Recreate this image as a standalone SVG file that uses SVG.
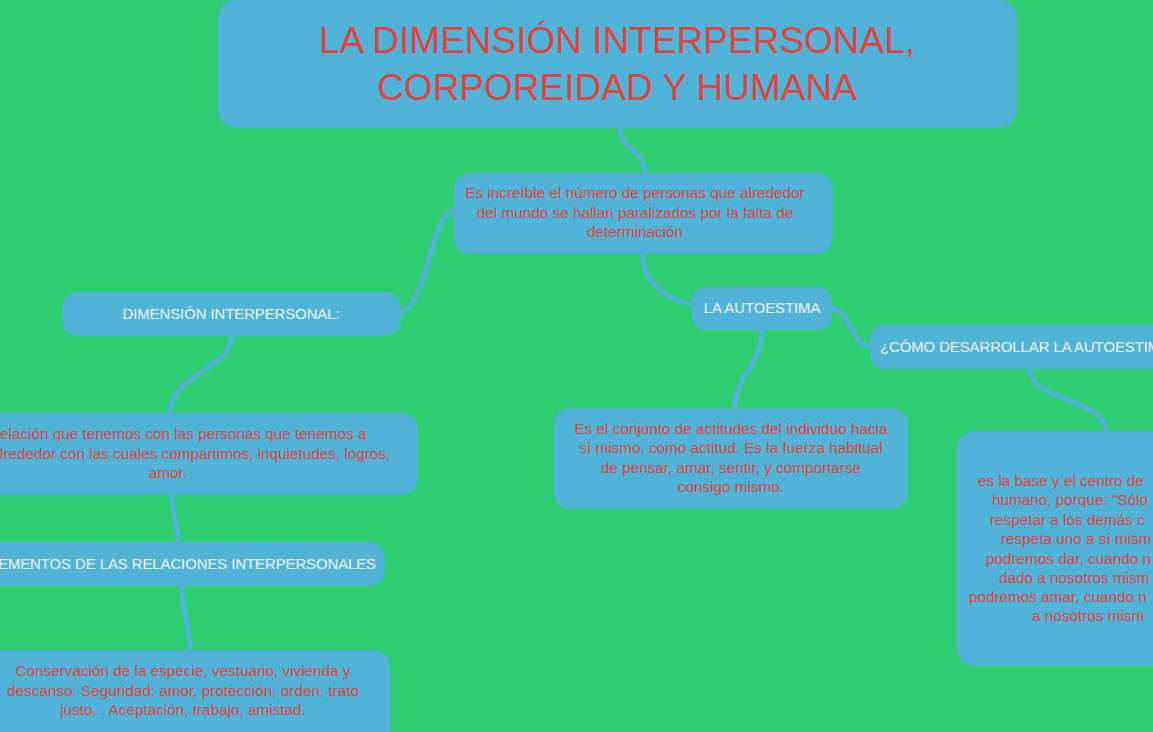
<svg xmlns="http://www.w3.org/2000/svg" width="1153" height="732" viewBox="0 0 1153 732">
<style>
.n{fill:#52b3d9}
.c{fill:none;stroke:#52b3d9;stroke-width:5;stroke-linecap:round}
.r{fill:#e0443c;font-family:"Liberation Sans",sans-serif;font-size:15.3px}
.w{fill:#f2f6fa;font-family:"Liberation Sans",sans-serif;font-size:14.8px}
.m{text-anchor:middle}
</style>
<rect width="1153" height="732" fill="#2ecc71"/>
<g id="connectors">
<path class="c" d="M620,128 C620,150 645,150 645,173"/>
<path class="c" d="M454,210 C430,215 430,300 401,313"/>
<path class="c" d="M642,254 C645,290 675,302 695,305"/>
<path class="c" d="M832,308 C855,315 850,345 872,347"/>
<path class="c" d="M762,330 C762,365 735,375 735,408"/>
<path class="c" d="M232,336 C230,370 170,375 170,413"/>
<path class="c" d="M172,495 C172,515 178,520 178,542"/>
<path class="c" d="M182,586 C182,615 190,620 190,650"/>
<path class="c" d="M1030,369 C1030,400 1105,400 1107,431"/>
</g>
<g id="title"><rect class="n" x="218" y="0" width="799" height="128" rx="18"/>
<text class="r m" x="617" y="53" style="font-size:37px">LA DIMENSIÓN INTERPERSONAL,</text>
<text class="r m" x="617" y="100" style="font-size:37px">CORPOREIDAD Y HUMANA</text></g>
<g id="n-increible"><rect class="n" x="454" y="173" width="379" height="81" rx="16"/>
<text class="r m" x="635" y="198">Es increíble el número de personas que alrededor</text>
<text class="r m" x="635" y="218">del mundo se hallan paralizados por la falta de</text>
<text class="r m" x="635" y="237">determinación</text></g>
<g id="n-dim"><rect class="n" x="62" y="292" width="339" height="44" rx="16"/>
<text class="w m" x="231" y="319">DIMENSIÓN INTERPERSONAL:</text></g>
<g id="n-auto"><rect class="n" x="692" y="287" width="140" height="43" rx="14"/>
<text class="w m" x="762" y="313">LA AUTOESTIMA</text></g>
<g id="n-como"><rect class="n" x="870" y="325" width="300" height="44" rx="14"/>
<text class="w" x="880" y="352">¿CÓMO DESARROLLAR LA AUTOESTIM</text></g>
<g id="n-conjunto"><rect class="n" x="554" y="408" width="354" height="101" rx="16"/>
<text class="r m" x="731" y="434">Es el conjunto de actitudes del individuo hacia</text>
<text class="r m" x="731" y="453">sí mismo, como actitud. Es la fuerza habitual</text>
<text class="r m" x="731" y="473">de pensar, amar, sentir, y comportarse</text>
<text class="r m" x="731" y="492">consigo mismo.</text></g>
<g id="n-base"><rect class="n" x="957" y="431" width="230" height="235" rx="18"/>
<text class="r" x="978" y="486">es la base y el centro de</text>
<text class="r" x="992" y="505">humano, porque: "Sólo</text>
<text class="r" x="990" y="525">respetar a los demás c</text>
<text class="r" x="1001" y="544">respeta uno a sí mism</text>
<text class="r" x="986" y="564">podremos dar, cuando n</text>
<text class="r" x="999" y="583">dado a nosotros mism</text>
<text class="r" x="969" y="602">podremos amar, cuando n</text>
<text class="r" x="1032" y="621">a nosotros mism</text></g>
<g id="n-relacion"><rect class="n" x="-20" y="413" width="438" height="82" rx="16"/>
<text class="r" x="0" y="439">elación que tenemos con las personas que tenemos a</text>
<text class="r" x="0" y="459">lrededor con las cuales compartimos, inquietudes, logros,</text>
<text class="r m" x="168" y="478">amor.</text></g>
<g id="n-elementos"><rect class="n" x="-20" y="542" width="405" height="44" rx="16"/>
<text class="w" x="376" y="569" text-anchor="end">EMENTOS DE LAS RELACIONES INTERPERSONALES</text></g>
<g id="n-conservacion"><rect class="n" x="-20" y="650" width="410" height="100" rx="16"/>
<text class="r m" x="183" y="676">Conservación de la especie, vestuario, vivienda y</text>
<text class="r m" x="183" y="696">descanso. Seguridad: amor, protección, orden, trato</text>
<text class="r m" x="183" y="715">justo. . Aceptación, trabajo, amistad.</text></g>
</svg>
